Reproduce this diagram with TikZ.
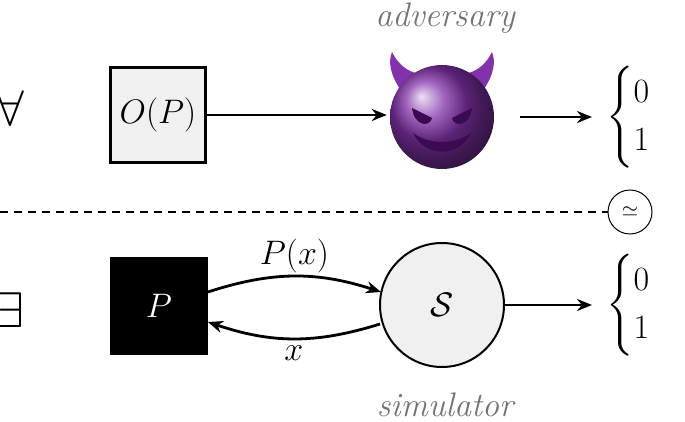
\documentclass[tikz,border=0pt]{standalone}
\usepackage{fix-cm}
\usepackage{amsmath,amssymb}
\usetikzlibrary{arrows.meta}
\definecolor{boxgray}{gray}{0.94}
\definecolor{labgray}{gray}{0.45}
\definecolor{devil}{RGB}{130,50,170}
\definecolor{devildark}{RGB}{60,10,80}
\newcommand{\bigsz}{\fontsize{34}{40}\selectfont}
\tikzset{
 bigtxt/.style={font=\bigsz},
 arr/.style={-{Stealth[length=15pt,width=12pt]},line width=2.8pt},
 sq/.style={draw,line width=2.8pt,minimum size=95pt,inner sep=0pt},
 grey/.style={font=\bigsz\itshape,text=labgray}
}
\begin{document}
\begin{tikzpicture}[x=1pt,y=-1pt]
\useasboundingbox (0,0) rectangle (685,422);
\node[font=\fontsize{50}{54}\selectfont] (fa) at (10,108) {$\forall$};
\node[font=\fontsize{50}{54}\selectfont] (ex) at (10,310) {$\exists$};
\node[sq,fill=boxgray,bigtxt] (op) at (158,115) {\bigsz$O(P)$};
\node[grey] (adv) at (445,18) {adversary};
% devil
\coordinate (dv) at (442,117);
\fill[devil] (402,92) .. controls (390,75) and (388,62) .. (392,52) .. controls (400,68) and (412,74) .. (424,74) -- cycle;
\fill[devil] (482,92) .. controls (494,75) and (496,62) .. (492,52) .. controls (484,68) and (472,74) .. (460,74) -- cycle;
\shade[ball color=devil] (dv) circle (52);
\fill[devildark] (412,108) -- (432,118) .. controls (430,128) and (414,126) .. (412,108) -- cycle;
\fill[devildark] (472,108) -- (452,118) .. controls (454,128) and (470,126) .. (472,108) -- cycle;
\fill[devildark] (413,133) .. controls (425,158) and (459,158) .. (471,133) .. controls (455,145) and (429,145) .. (413,133) -- cycle;
\node[inner sep=0pt,minimum size=110pt] (dn) at (dv) {};
\draw[arr] (op.east) -- (op.east -| dn.west);
\node[bigtxt,anchor=west,inner sep=0pt] (o1) at (606,117) {\bigsz$\begin{cases}0\\1\end{cases}$};
\draw[arr] (520,117) -- (592,117);
\coordinate (dl) at (0,212);
\node[draw,circle,line width=1pt,minimum size=44pt,inner sep=0pt,font=\fontsize{21}{24}\selectfont] (eq) at (630,212) {$\simeq$};
\draw[line width=1pt,dash pattern=on 8pt off 6pt] (dl) -- (eq.west);
\node[sq,fill=black,text=white,bigtxt] (p) at (159,306) {\bigsz$P$};
\node[draw,circle,line width=2pt,fill=boxgray,minimum size=124pt,bigtxt] (s) at (442,305) {\bigsz$\mathcal{S}$};
\node[grey] (sim) at (445,405) {simulator};
\draw[arr] (p.east |- 0,292) to[bend left=18] node[above,bigtxt,inner sep=2pt] {\bigsz$P(x)$} (381,292);
\draw[arr] (380,324) to[bend left=18] node[below,bigtxt,inner sep=6pt] {\bigsz$x$} (p.east |- 0,322);
\node[bigtxt,anchor=west,inner sep=0pt] (o2) at (606,305) {\bigsz$\begin{cases}0\\1\end{cases}$};
\draw[arr] (s.east) -- (592,305);
\end{tikzpicture}
\end{document}
